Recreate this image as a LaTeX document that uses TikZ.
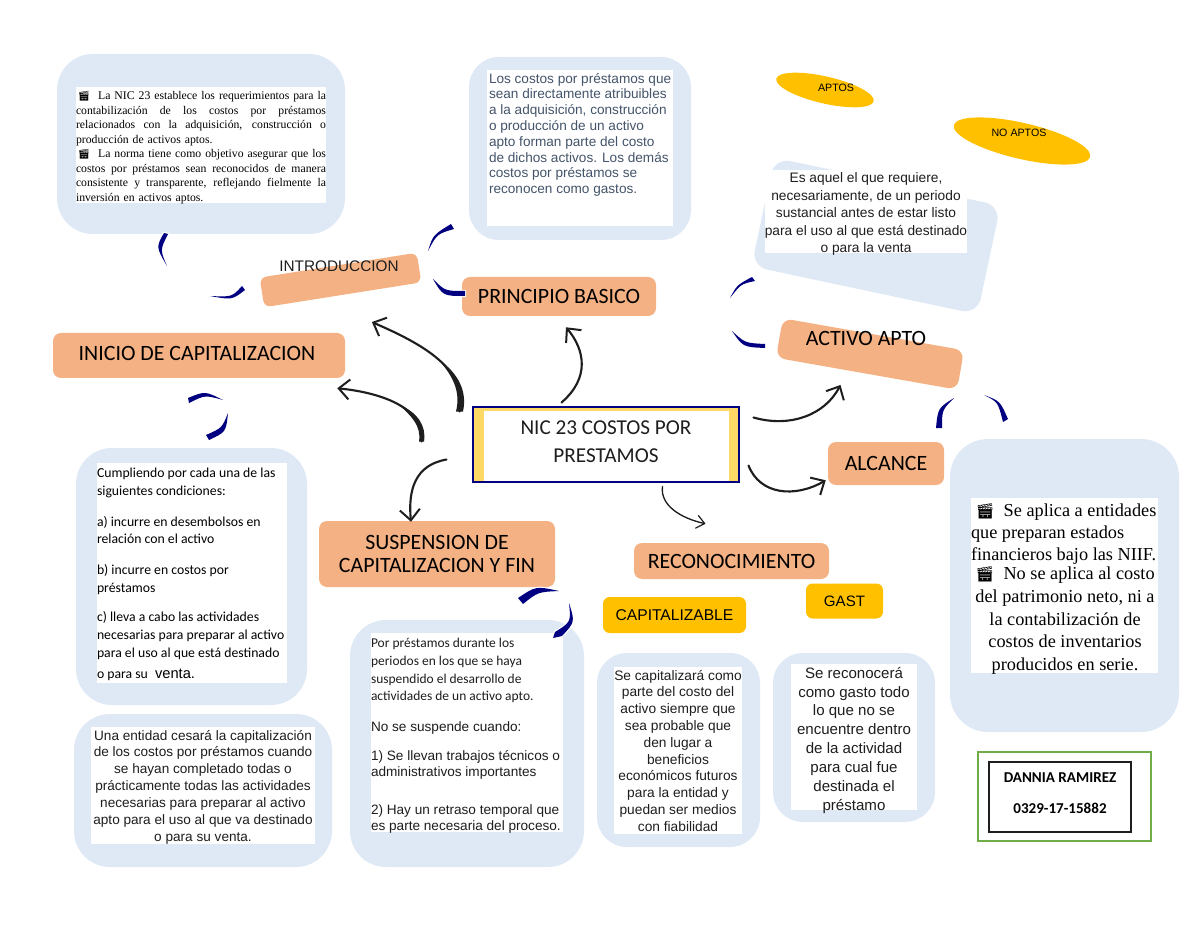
\documentclass[tikz,border=0pt]{standalone}
\usepackage{fontspec}
\usepackage{graphicx}
\usetikzlibrary{arrows.meta,calc,shapes.geometric}
\setmainfont{Liberation Serif}
\newfontfamily\arialf{Liberation Sans}
\newfontfamily\carl{Carlito}
\newfontfamily\emj{Noto Emoji}
\definecolor{panelblue}{HTML}{DEE9F5}
\definecolor{orangeb}{HTML}{F4B183}
\definecolor{goldb}{HTML}{FFC000}
\definecolor{yellowb}{HTML}{FFD966}
\definecolor{navyb}{HTML}{000080}
\definecolor{greenb}{HTML}{70AD47}
\definecolor{slateb}{HTML}{44546A}
\definecolor{inkb}{HTML}{1E1E1E}
\newcommand\fs[2]{\fontsize{#1}{#2}\selectfont}
\newcommand\clapic{\scalebox{.82}{\emj\symbol{"1F3AC}}}
\newcommand\jl[1]{\hbox to\linewidth{\spaceskip=.25em plus 1fil\relax #1}}
\tikzset{
  panel/.style={fill=panelblue,inner sep=0pt},
  whitebg/.style={fill=white,inner sep=0pt},
  orangebox/.style={fill=orangeb,inner sep=0pt,rounded corners=6pt,font=\carl\fs{16.4}{16.8},align=center,text=black},
  goldbox/.style={fill=goldb,inner sep=0pt,rounded corners=5pt,align=center},
  txt/.style={inner sep=0pt,outer sep=0pt},
  brush/.style={inkb,line width=1.6pt,line cap=round,-{Straight Barb[length=8pt,width=15pt,line width=1.5pt]}},
  navyarc/.style={fill=navyb,preaction={draw=white,line width=1.8pt}},
}
\newcommand\panel[6]{\node[panel,rounded corners={#6*0.75pt},minimum width={(#4-#2)*.75pt},minimum height={(#5-#3)*.75pt}] (#1) at ({(#2+#4)/2},{(#3+#5)/2}) {};}
\newcommand\whitep[5]{\node[whitebg,minimum width={(#4-#2)*.75pt},minimum height={(#5-#3)*.75pt}] (#1) at ({(#2+#4)/2},{(#3+#5)/2}) {};}
\newcommand\obox[6]{\node[orangebox,minimum width={(#4-#2)*.75pt},minimum height={(#5-#3)*.75pt}] (#1) at ({(#2+#4)/2},{(#3+#5)/2}) {#6};}
\begin{document}
\begin{tikzpicture}[x=0.75pt,y=-0.75pt]
\useasboundingbox (0,0) rectangle (1200,927);
% panels
\panel{pintro}{57}{54}{345}{234}{36}
\whitep{wintro}{76}{87}{326}{203}
\node[txt,anchor=north west,text width=187.5pt,font=\fs{8.8}{10.9}] (tintro) at (76,91.5) {%
\jl{\,\clapic\ \ La NIC 23 establece los requerimientos para la}
\jl{contabilización de los costos por préstamos}
\jl{relacionados con la adquisición, construcción o}
producción de activos aptos.\par
\jl{\,\clapic\ \ La norma tiene como objetivo asegurar que los}
\jl{costos por préstamos sean reconocidos de manera}
\jl{consistente y transparente, reflejando fielmente la}
inversión en activos aptos.};

\panel{pprin}{469}{57}{691}{240}{30}
\whitep{wprin}{487}{70}{673}{226}
\node[txt,anchor=north west,align=left,text=slateb,font=\arialf\fs{10.2}{11.85}] (tprin) at (489,73) {Los costos por préstamos que\\sean directamente atribuibles\\a la adquisición, construcción\\o producción de un activo\\apto forman parte del costo\\de dichos activos. Los demás\\costos por préstamos se\\reconocen como gastos.};

\node[panel,rotate=-12,rounded corners=12pt,minimum width={231*.75pt},minimum height={111*.75pt}] (pact) at (876,236) {};
\whitep{wact}{765}{170}{967}{253}
\node[txt,anchor=north,align=center,text=inkb,font=\arialf\fs{10.3}{13.1}] (tact) at (866,173) {Es aquel el que requiere,\\necesariamente, de un periodo\\sustancial antes de estar listo\\para el uso al que está destinado\\o para la venta};

\panel{pini}{76}{448}{307}{705}{36}
\whitep{wini}{97}{463}{287}{683}
\node[txt,anchor=north west,align=left,font=\carl\fs{10.3}{13.2}] (tini) at (97,468) {Cumpliendo por cada una de las\\siguientes condiciones:\\[10pt]a) incurre en desembolsos en\\relación con el activo\\[10pt]b) incurre en costos por\\préstamos\\[9pt]c) lleva a cabo las actividades\\necesarias para preparar al activo\\para el uso al que está destinado\\[3pt]o para su {\arialf\fs{11}{13} venta.}};

\panel{pces}{74}{714}{332}{867}{36}
\whitep{wces}{91}{727}{315}{844}
\node[txt,anchor=north,align=center,text=inkb,font=\arialf\fs{10.2}{12.7}] (tces) at (203,730) {Una entidad cesará la capitalización\\de los costos por préstamos cuando\\se hayan completado todas o\\prácticamente todas las actividades\\necesarias para preparar al activo\\apto para el uso al que va destinado\\o para su venta.};

\panel{psus}{350}{620}{584}{867}{36}
\whitep{wsus}{371}{633}{563}{832}
\node[txt,anchor=north west,align=left,text=inkb,font=\carl\fs{10.1}{13.4}] (tsus) at (371,638) {Por préstamos durante los\\periodos en los que se haya\\suspendido el desarrollo de\\actividades de un activo apto.};
\node[txt,anchor=north west,align=left,text=inkb,font=\arialf\fs{10.2}{12}] (tsus2) at (371,722) {No se suspende cuando:\\[9.5pt]1) Se llevan trabajos técnicos o\\administrativos importantes\\[16.5pt]2) Hay un retraso temporal que\\es parte necesaria del proceso.};

\panel{pcap}{597}{653}{760}{847}{30}
\whitep{wcap}{614}{667}{742}{834}
\node[txt,anchor=north,align=center,text=inkb,font=\arialf\fs{10.3}{12.6}] (tcap) at (678,670) {Se capitalizará como\\parte del costo del\\activo siempre que\\sea probable que\\den lugar a\\beneficios\\económicos futuros\\para la entidad y\\puedan ser medios\\con fiabilidad};

\panel{pgas}{773}{653}{935}{822}{30}
\whitep{wgas}{791}{664}{917}{810}
\node[txt,anchor=north,align=center,text=inkb,font=\arialf\fs{11.3}{14.2}] (tgas) at (854,667) {Se reconocerá\\como gasto todo\\lo que no se\\encuentre dentro\\de la actividad\\para cual fue\\destinada el\\préstamo};

\panel{palc}{950}{439}{1179}{732}{38}
\whitep{walc}{971}{498}{1158}{673}
\node[txt,anchor=north west,align=left,font=\fs{13.7}{16.4}] (talc) at (971,504) {\ \clapic\ \ Se aplica a entidades\\que preparan estados\\financieros bajo las NIIF.};
\node[txt,anchor=north,align=center,font=\fs{13.7}{17}] (talc2) at (1065,567) {\clapic\ \ No se aplica al costo\\del patrimonio neto, ni a\\la contabilización de\\costos de inventarios\\producidos en serie.};

% ellipses
\node[ellipse,fill=goldb,inner sep=0pt,rotate=-13,minimum width={100*.75pt},minimum height={27*.75pt}] (eapt) at (825,90) {};
\node[txt,font=\arialf\fs{8}{10}] (tapt) at (836,88) {APTOS};
\node[ellipse,fill=goldb,inner sep=0pt,rotate=-13,minimum width={140*.75pt},minimum height={36*.75pt}] (enoa) at (1022,141) {};
\node[txt,font=\arialf\fs{8}{10}] (tnoa) at (1019,133) {NO APTOS};

% orange boxes
\node[fill=orangeb,rounded corners=5pt,rotate=9,minimum width={159*.75pt},minimum height={30*.75pt},inner sep=0pt] (intro) at (340.5,280) {};
\node[txt,text=inkb,font=\arialf\fs{11.5}{14}] (tintroh) at (339,266) {INTRODUCCION};
\obox{prin}{462}{277}{656}{316}{PRINCIPIO BASICO}
\obox{inic}{53}{333}{345}{378}{\raisebox{3pt}{\kern-3pt INICIO DE CAPITALIZACION}}
\node[fill=orangeb,rounded corners=7pt,rotate=-10,minimum width={184*.75pt},minimum height={40*.75pt},inner sep=0pt] (act) at (870,354) {};
\node[txt,font=\carl\fs{16.4}{16.8}] (tacth) at (866,338) {ACTIVO APTO};
\obox{alc}{828}{442}{944}{485}{ALCANCE}
\obox{rec}{634}{543}{829}{579}{RECONOCIMIENTO}
\obox{sus}{319}{521}{555}{587}{SUSPENSION DE\\CAPITALIZACION Y FIN}
\node[goldbox,font=\arialf\fs{11.7}{13},minimum width={143*.75pt},minimum height={36*.75pt}] (capi) at (674.5,615) {CAPITALIZABLE};
\node[goldbox,font=\arialf\fs{11.3}{13},minimum width={77*.75pt},minimum height={35*.75pt}] (gast) at (844.5,601) {GAST};

% central node
\node[draw=navyb,fill=yellowb,line width=1.5pt,inner sep=0pt,minimum width={266*.75pt},minimum height={75*.75pt}] (nic) at (605.5,444) {};
\node[fill=white,inner sep=0pt,minimum width={245*.75pt},minimum height={70*.75pt}] (nicw) at (606,445.5) {};
\node[txt,align=center,font=\carl\fs{15.9}{21.2},text=inkb] (nict) at (606,441.5) {NIC 23 COSTOS POR\\PRESTAMOS};

% name box
\node[draw=greenb,line width=1.5pt,inner sep=0pt,minimum width={173*.75pt},minimum height={89*.75pt}] (gbox) at (1064.5,796.5) {};
\node[draw=inkb,line width=.9pt,fill=white,inner sep=0pt,minimum width={142*.75pt},minimum height={70*.75pt}] (nbox) at (1060,797) {};
\node[txt,align=center,font=\carl\bfseries\fs{11.3}{23.4}] (nboxt) at (1060,793.5) {DANNIA RAMIREZ\\0329-17-15882};

% main connectors
\draw[brush] ([shift={(-12,6)}]nic.north west) .. controls (468,370) and (425,345) .. ([shift={(29,27)}]intro.south);
\fill[inkb] ([shift={(-15.5,6)}]nic.north west) .. controls (461,391) and (452.5,376) .. (438.9,359.9) .. controls (458,373) and (467.5,391) .. ([shift={(-8.5,6)}]nic.north west) -- cycle;
\draw[brush] ([shift={(-50,36)}]nic.north west) .. controls (426,410) and (385,393) .. ([shift={(-8,10)}]inic.south east);
\fill[inkb] ([shift={(-52.5,36)}]nic.north west) .. controls (421.5,426) and (411.5,416) .. (399,404.9) .. controls (417.5,412) and (426.5,426) .. ([shift={(-47.5,36)}]nic.north west) -- cycle;
\draw[brush] ([shift={(-44,-3)}]nic.north) .. controls (590,378) and (585,350) .. ([shift={(7,11)}]prin.south);
\draw[brush] ([shift={(14,12)}]nic.north east) .. controls (790,428) and (825,415) .. ([shift={(-26,11)}]act.south);
\draw[brush] ([shift={(9,-17)}]nic.south east) .. controls (760,495) and (795,498) .. ([shift={(-2,-5)}]alc.south west);
\draw[brush,line width=1pt,-{Straight Barb[length=6pt,width=10pt,line width=.9pt]}] ([shift={(57,4)}]nic.south) .. controls (660,505) and (680,518) .. ([shift={(-26,-19)}]rec.north);
\draw[brush] ([shift={(-25,54)}]nic.north west) .. controls (415,465) and (408,490) .. ([shift={(-26,1)}]sus.north);

% navy brush arcs
\fill[navyarc] (167,266) .. controls (156,247) .. (164,233) -- (168,234) .. controls (160,250) .. cycle;
\fill[navyarc] (210,296) .. controls (232,297) .. (242,286) -- (245,290) .. controls (232,300) .. cycle;
\fill[navyarc] (428,251) .. controls (433,235) .. (451,224) -- (454,229) .. controls (437,234) .. cycle;
\fill[navyarc] (433,279) .. controls (445,291) .. (465,291) -- (465,296) .. controls (443,296) .. cycle;
\fill[navyarc] (730,298) .. controls (737,285) .. (752,277) -- (755,281) .. controls (741,284) .. cycle;
\fill[navyarc] (732,331) .. controls (745,343) .. (765,344) -- (765,348) .. controls (743,347) .. cycle;
\fill[navyarc] (954,398) .. controls (938,408) .. (936,428) -- (942,428) .. controls (942,410) .. cycle;
\fill[navyarc] (984,395) .. controls (998,402) .. (1003,422) -- (1008,419) .. controls (1000,401) .. cycle;
\fill[navyarc] (223,400) .. controls (205,391) .. (188,398) -- (189,403) .. controls (205,395) .. cycle;
\fill[navyarc] (228,413) .. controls (222,428) .. (206,435) -- (209,440) .. controls (226,432) .. cycle;
\fill[navyarc] (559,591) .. controls (536,586) .. (518,598) -- (523,604) .. controls (538,592) .. cycle;
\fill[navyarc] (569,603) .. controls (571,622) .. (555,632) -- (553,638) -- (562,636) .. controls (575,622) .. cycle;
\end{tikzpicture}
\end{document}
